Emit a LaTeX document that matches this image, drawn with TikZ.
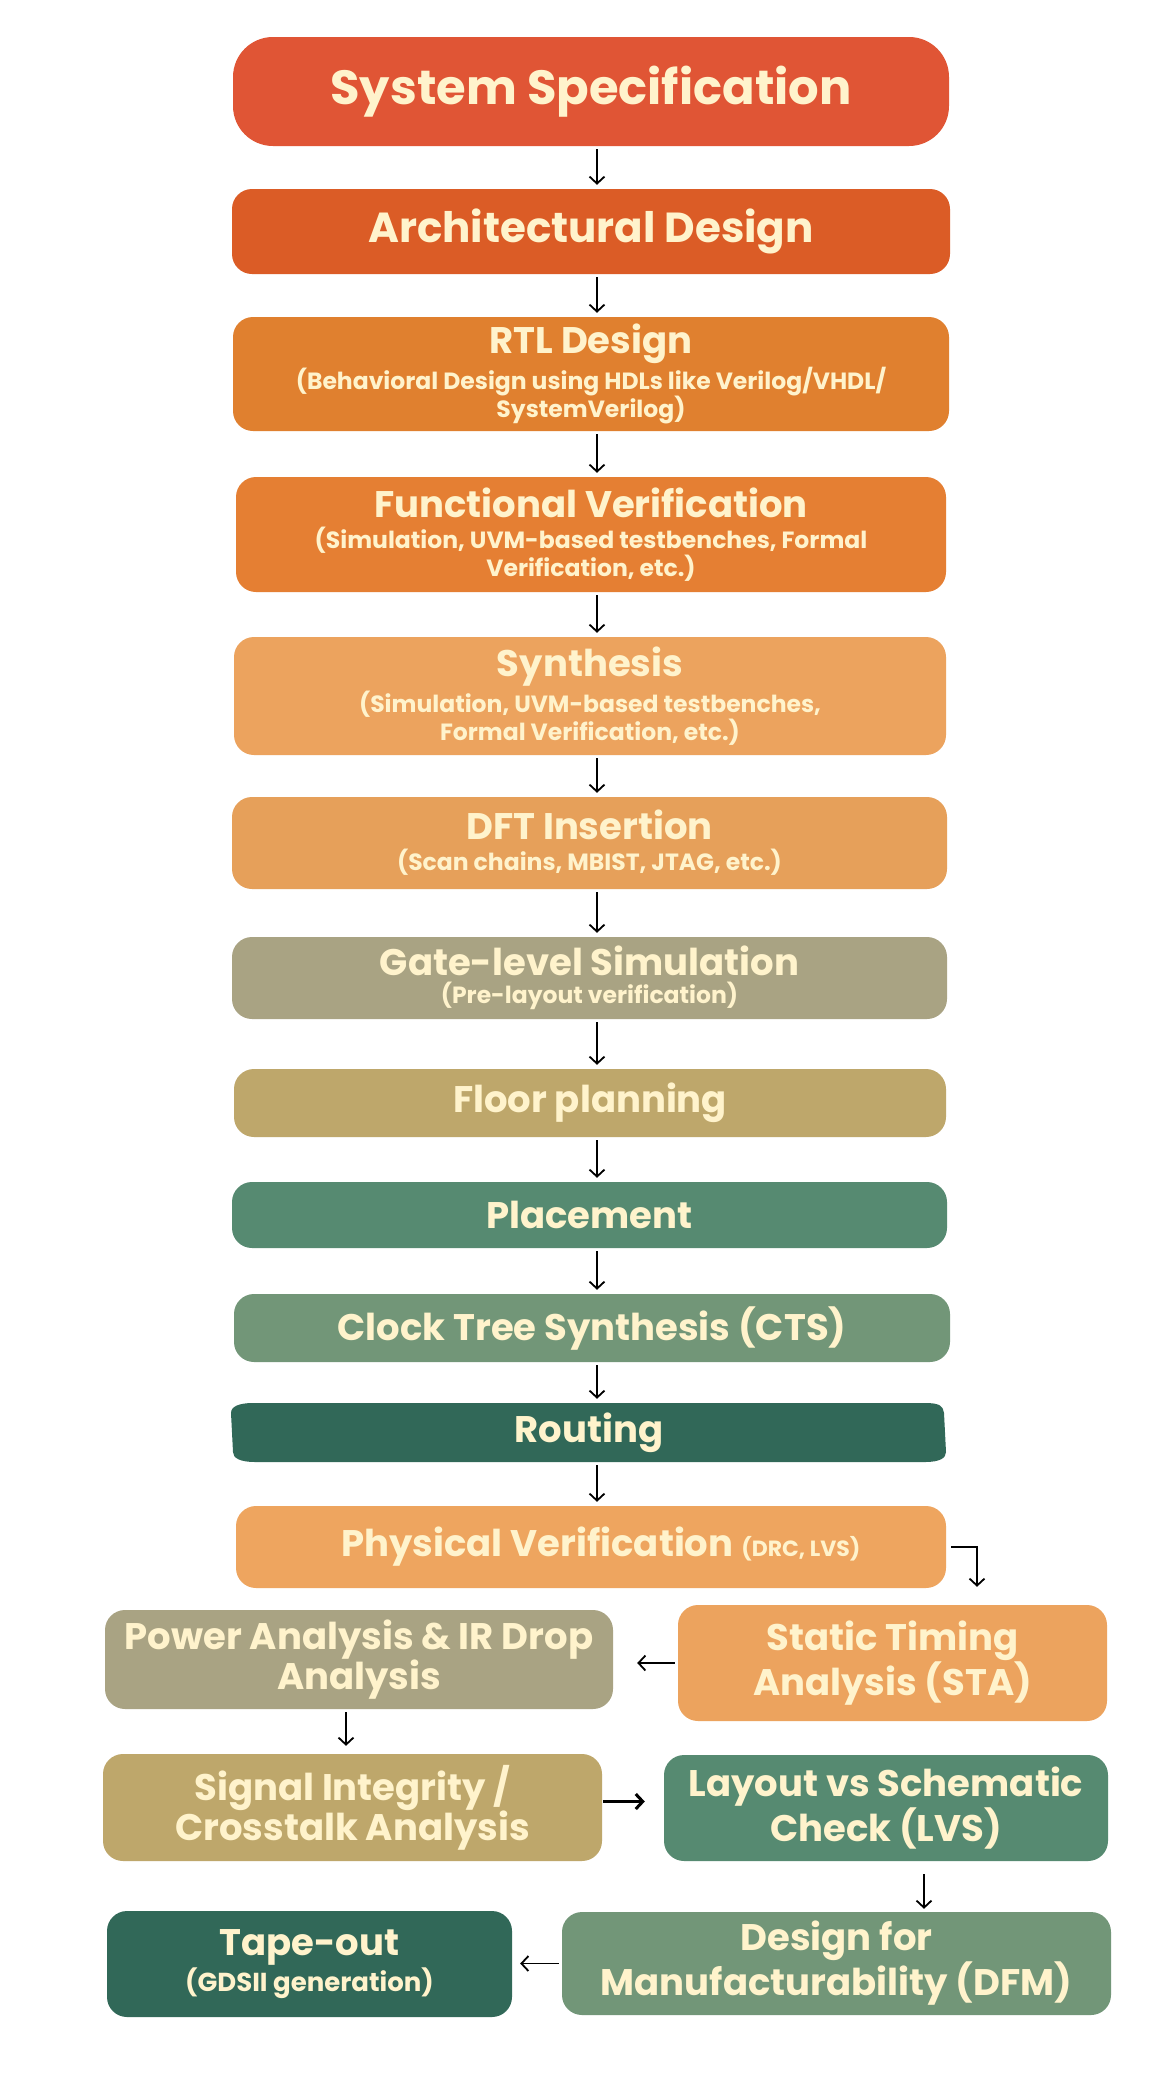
\documentclass[tikz,border=0pt]{standalone}
\usepackage{fontspec}
\setmainfont{Poppins}
\usetikzlibrary{arrows.meta}
\definecolor{cream}{HTML}{FFF3CC}
\definecolor{cSys}{HTML}{E05535}
\definecolor{cArch}{HTML}{DB5C26}
\definecolor{cRtl}{HTML}{E0802F}
\definecolor{cFunc}{HTML}{E57F33}
\definecolor{cSyn}{HTML}{ECA35E}
\definecolor{cDft}{HTML}{E6A05A}
\definecolor{cGate}{HTML}{A9A383}
\definecolor{cFloor}{HTML}{BEA76B}
\definecolor{cPlace}{HTML}{568A71}
\definecolor{cCts}{HTML}{729678}
\definecolor{cRout}{HTML}{316858}
\definecolor{cPv}{HTML}{EEA55F}
\newcommand\ftitle{\fontsize{37}{41}\selectfont}
\tikzset{
  blk/.style={rounded corners=20pt, inner sep=0pt, text=cream, align=center, font=\bfseries\fontsize{37}{40}\selectfont},
  subblk/.style={blk, font=\bfseries\fontsize{23.5}{28}\selectfont},
  arr/.style={line width=1.8pt, -{Straight Barb[length=7pt,width=15pt]}},
}
\begin{document}
\begin{tikzpicture}[x=1pt,y=-1pt]
\useasboundingbox (0,0) rectangle (1167,2077);
\fill[white] (0,0) rectangle (1167,2077);

\node[blk, fill=cSys, minimum width=716pt, minimum height=109pt, rounded corners=40pt, font=\bfseries\fontsize{48}{52}\selectfont] (sys) at (591,91.5)
  {System Specification};
\node[blk, fill=cArch, minimum width=718pt, minimum height=85pt, font=\bfseries\fontsize{42}{48}\selectfont] (arch) at (591,231.5)
  {Architectural Design};
\node[subblk, fill=cRtl, minimum width=716pt, minimum height=114pt] (rtl) at (591,374)
  {\ftitle RTL Design\\[3pt](Behavioral Design using HDLs like Verilog/VHDL/\\SystemVerilog)};
\node[subblk, fill=cFunc, minimum width=710pt, minimum height=115pt] (func) at (591,534.5)
  {\ftitle Functional Verification\\[3pt](Simulation, UVM-based testbenches, Formal\\Verification, etc.)};
\node[subblk, fill=cSyn, minimum width=712pt, minimum height=118pt] (syn) at (590,696)
  {\ftitle Synthesis\\[3pt](Simulation, UVM-based testbenches,\\Formal Verification, etc.)};
\node[subblk, fill=cDft, minimum width=715pt, minimum height=92pt] (dft) at (589.5,843)
  {\ftitle DFT Insertion\\[3pt](Scan chains, MBIST, JTAG, etc.)};
\node[subblk, fill=cGate, minimum width=715pt, minimum height=82pt] (gate) at (589.5,978)
  {\ftitle Gate-level Simulation\\[0pt](Pre-layout verification)};
\node[blk, fill=cFloor, minimum width=712pt, minimum height=68pt] (floor) at (590,1103)
  {Floor planning};
\node[blk, fill=cPlace, minimum width=715pt, minimum height=66pt] (place) at (589.5,1215)
  {Placement};
\node[blk, fill=cCts, minimum width=716pt, minimum height=68pt] (cts) at (592,1328)
  {Clock Tree Synthesis (CTS)};
\fill[cRout] (253,1403) -- (925,1403) .. controls (940,1403) and (943,1406) .. (944,1413)
  -- (946,1452) .. controls (946,1458) and (940,1462) .. (925,1462) -- (255,1462)
  .. controls (240,1462) and (233,1458) .. (233,1452) -- (231,1413)
  .. controls (231,1406) and (240,1403) .. (253,1403) -- cycle;
\node[blk, minimum width=716pt, minimum height=59pt] (rout) at (589,1432.5)
  {Routing};
\node[blk, fill=cPv, minimum width=710pt, minimum height=82pt] (pv) at (591,1547)
  {\hspace*{20pt}Physical Verification \fontsize{22}{26}\selectfont (DRC, LVS)};

\node[blk, fill=cGate, minimum width=508pt, minimum height=99pt] (pow) at (359,1659.5)
  {Power Analysis \& IR Drop\\Analysis};
\node[blk, fill=cSyn, minimum width=429pt, minimum height=116pt] (sta) at (892.5,1663)
  {Static Timing\\Analysis (STA)};
\node[blk, fill=cFloor, minimum width=499pt, minimum height=107pt] (sig) at (352.5,1807.5)
  {Signal Integrity /\\Crosstalk Analysis};
\node[blk, fill=cPlace, minimum width=444pt, minimum height=106pt] (lvs) at (886,1808)
  {Layout vs Schematic\\Check (LVS)};
\node[blk, fill=cRout, minimum width=405pt, minimum height=106pt, font=\bfseries\fontsize{26}{30}\selectfont] (tape) at (309.5,1964)
  {\ftitle Tape-out\\[2pt](GDSII generation)};
\node[blk, fill=cCts, minimum width=549pt, minimum height=103pt] (dfm) at (836.5,1963.5)
  {Design for\\Manufacturability (DFM)};

% vertical chain arrows
\foreach \a/\b in {sys/arch, arch/rtl, rtl/func, func/syn, syn/dft, dft/gate, gate/floor, floor/place, place/cts, cts/rout, rout/pv}
  \draw[arr, shorten <=3pt, shorten >=4pt] ([xshift=6pt]\a.south -| sys.center) -- ([xshift=6pt]\b.north -| sys.center);

\draw[arr] ([xshift=5pt]pv.east) -| ([xshift=84.5pt,yshift=18pt]sta.north);
\draw[arr, shorten <=3pt, shorten >=24pt] (sta.west) -- (sta.west -| pow.east);
\draw[arr, shorten <=3pt, shorten >=8pt] ([xshift=-13pt]pow.south) -- ([xshift=-13pt]pow.south |- sig.north);
\draw[arr, line width=3pt, shorten <=1pt, shorten >=19pt] ([yshift=6pt]sig.east) -- ([yshift=6pt]sig.east -| lvs.west);
\draw[arr, shorten <=13pt, shorten >=3pt] ([xshift=38pt]lvs.south) -- ([xshift=38pt]lvs.south |- dfm.north);
\draw[arr, shorten <=3pt, shorten >=8pt] (dfm.west) -- (dfm.west -| tape.east);
\end{tikzpicture}
\end{document}
